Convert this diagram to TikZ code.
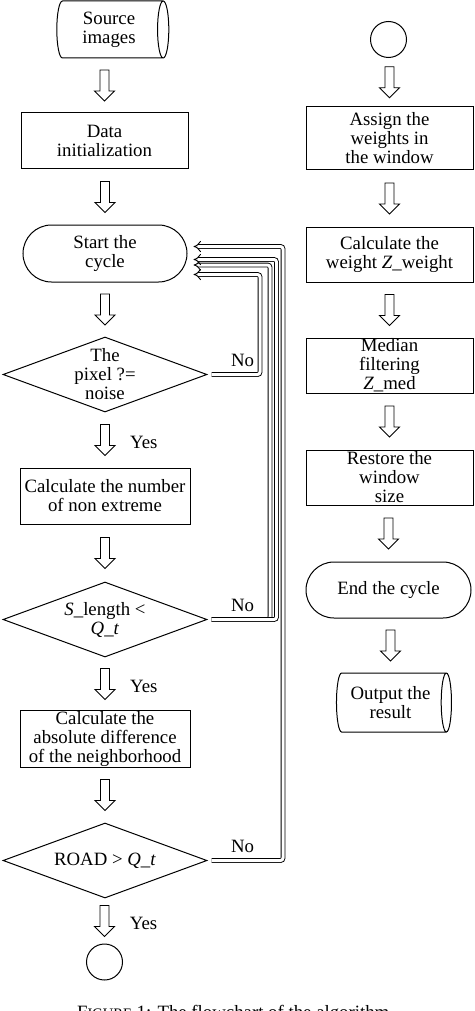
\documentclass[tikz,border=0pt]{standalone}
\usepackage{fontspec}
\setmainfont{Liberation Serif}
\usetikzlibrary{shapes.geometric,shapes.misc,arrows.meta,calc}
\tikzset{
  every node/.style={font=\fontsize{18.8}{19}\selectfont},
  box/.style={draw, line width=1pt, rectangle, minimum width=167pt, minimum height=56pt, align=center, inner sep=0.5pt},
  term/.style={draw, line width=1pt, rounded rectangle, minimum width=166pt, minimum height=57pt, align=center, inner sep=1pt},
  dec/.style={draw, line width=1pt, diamond, aspect=2.72, minimum width=204pt, minimum height=75pt, inner sep=0pt, align=center},
  conn/.style={draw, line width=1pt, circle, minimum size=36pt, inner sep=0pt},
  store/.style={draw, line width=1pt, cylinder, shape aspect=0.3, minimum height=112pt, minimum width=57pt, align=center, inner sep=1pt},
  blk/.style={draw, line width=0.9pt, fill=white, line join=miter},
  ret/.style={double, double distance=3pt, line width=0.9pt, rounded corners=2.5pt, -{Implies}, shorten >=6pt},
  lbl/.style={inner sep=0pt},
}
\newcommand{\blockarr}[2]{%
  \path let \p1=(#1), \p2=(#2) in (\x2,{(\y1+\y2)/2}) coordinate (bm);
  \draw[blk] (bm) ++(-4.5,15.5) -- ++(0,-21) -- ++(-5.5,0) -- ++(10,-10) -- ++(10,10) -- ++(-5.5,0) -- ++(0,21) -- cycle;}
\begin{document}
\begin{tikzpicture}[x=1pt,y=1pt]
\useasboundingbox (0,0) rectangle (474,-1011);
\fill[white] (0,0) rectangle (474,-1011);
\clip (0,0) rectangle (474,-1011);
% left column
\node[store] (src) at (109,-29.5) {Source\\images};
\node[box] (init) at (104.5,-141) {Data\\initialization};
\node[term] (start) at (105,-253.5) {Start the\\cycle};
\node[dec] (d1) at (105,-374.5) {The\\pixel ?=\\noise};
\node[box, minimum width=170pt] (calcn) at (105,-496) {Calculate the number\\of non extreme};
\node[dec] (d2) at (105,-619.5) {\textit{S}\_length <\\\textit{Q}\_\textit{t}};
\node[box, minimum width=170pt] (calca) at (105,-739) {Calculate the\\absolute difference\\of the neighborhood};
\node[dec] (d3) at (105,-860.5) {ROAD > \textit{Q}\_\textit{t}};
\node[conn] (endc) at (104.5,-962) {};
% right column
\node[conn] (cont) at (388.5,-39.5) {};
\node[box, minimum height=63pt] (assign) at (389.5,-138.5) {Assign the\\weights in\\the window};
\node[box, minimum height=55pt] (calcw) at (389.5,-254.5) {Calculate the\\weight \textit{Z}\_weight};
\node[box, minimum height=55pt] (median) at (389.5,-365.5) {Median\\filtering\\\textit{Z}\_med};
\node[box, minimum height=55pt] (restore) at (389.5,-477.5) {Restore the\\window\\size};
\node[term, minimum width=167pt, minimum height=56pt] (endcyc) at (388.5,-590) {End the cycle};
\node[store, minimum height=115pt, minimum width=59pt] (out) at (390.5,-702.5) {Output the\\result};
% block arrows
\blockarr{src.south}{init.north}
\blockarr{init.south}{start.north}
\blockarr{start.south}{d1.north}
\blockarr{d1.south}{calcn.north}
\blockarr{calcn.south}{d2.north}
\blockarr{d2.south}{calca.north}
\blockarr{calca.south}{d3.north}
\blockarr{d3.south}{endc.north}
\blockarr{cont.south}{assign.north}
\blockarr{assign.south}{calcw.north}
\blockarr{calcw.south}{median.north}
\blockarr{median.south}{restore.north}
\blockarr{restore.south}{endcyc.north}
\blockarr{endcyc.south}{out.north}
% yes labels
\node[lbl, anchor=west] (y1) at ($(d1.south)!0.5!(calcn.north)+(25,-2)$) {Yes};
\node[lbl, anchor=west] (y2) at ($(d2.south)!0.5!(calca.north)+(25,-2)$) {Yes};
\node[lbl, anchor=west] (y3) at ($(d3.south)!0.5!(endc.north)+(25,-2)$) {Yes};
% no labels
\node[lbl] (n1) at ($(d1.east)+(35,14)$) {No};
\node[lbl] (n2) at ($(d2.east)+(35,14)$) {No};
\node[lbl] (n3) at ($(d3.east)+(35,14)$) {No};
% return connectors
\draw[ret] ([xshift=4pt]d1.east) -| (260,-274.5) -- (start.east |- 0,-274.5);
\draw[ret] ([xshift=4pt]d2.east) -| (270,-265) -- (start.east |- 0,-265);
\draw[ret] ([xshift=4pt]d2.east) -| (276.5,-259.5) -- (start.east |- 0,-259.5);
\draw[ret] ([xshift=4pt]d3.east) -| (283,-246.5) -- (start.east |- 0,-246.5);
% caption (cut by the page edge)
\node[lbl, anchor=base west] (cap) at (77,-1018) {F{\fontsize{14.5}{15}\selectfont IGURE} 1: The flowchart of the algorithm.};
\end{tikzpicture}
\end{document}
